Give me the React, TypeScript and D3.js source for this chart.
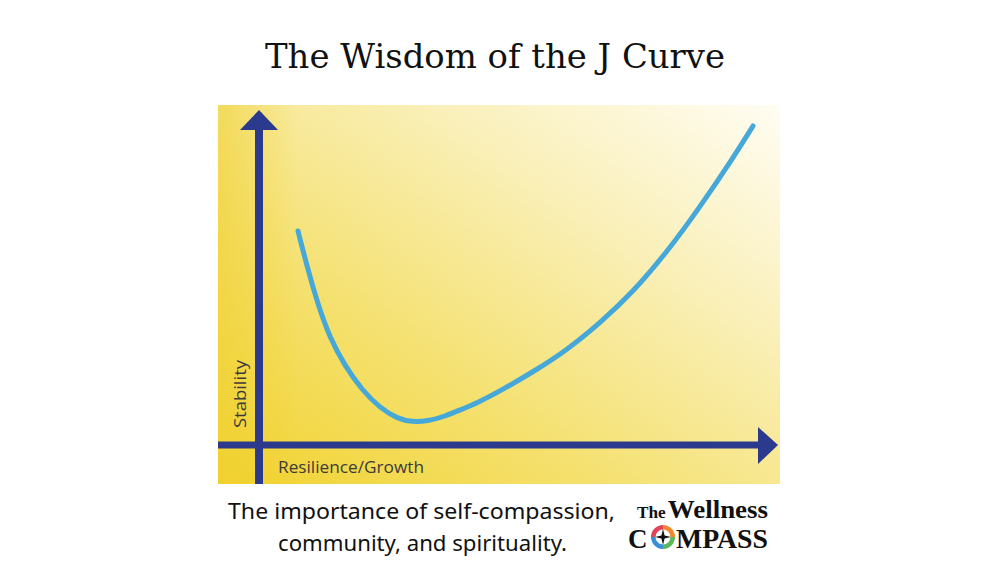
import React from "react";
import * as d3 from "d3";

const curveX = [0.763, 0.939, 1.155, 1.389, 1.683, 2.016, 2.368, 2.72, 2.994, 3.307, 3.601, 3.933, 4.266, 4.716, 5.362, 6.027, 6.673, 7.319, 7.984, 8.63, 9.276, 9.667];
const curveY = [6.485, 5.424, 4.242, 3.242, 2.394, 1.667, 1.121, 0.788, 0.697, 0.727, 0.848, 1.061, 1.273, 1.636, 2.212, 2.879, 3.697, 4.636, 5.848, 7.212, 8.697, 9.667];
const xAxisLabel = "Resilience/Growth";
const yAxisLabel = "Stability";
const titleText = "The Wisdom of the J Curve";
const captionLines = ["The importance of self-compassion,", "community, and spirituality."];

export default function App() {
  const W = 1000, H = 563;
  const bg = { x0: 218, x1: 780, y0: 105, y1: 484 };
  const x = d3.scaleLinear().domain([0, 10]).range([259, 770]);
  const y = d3.scaleLinear().domain([0, 10]).range([445, 115]);
  const pts = curveX.map((v, i) => [x(v), y(curveY[i])] as [number, number]);
  const line = d3.line().curve(d3.curveBasis)(pts) || "";
  const axisColor = "#2c3a8e";
  const ax = x(0), ay = y(0);

  const rc = { cx: 663, cy: 537, r: 12 };
  const arc = d3.arc();
  const ringColors = ["#f0892c", "#5cb85c", "#3a8fd6", "#e0455a"];
  return (
    <svg width={W} height={H} style={{ position: "absolute", left: 0, top: 0, background: "#fff" }}>
      <defs>
        <linearGradient id="bgGrad" x1="0" y1="1" x2="1" y2="0">
          <stop offset="0" stopColor="#f1d22e" />
          <stop offset="0.35" stopColor="#f5e171" />
          <stop offset="0.7" stopColor="#faf0bb" />
          <stop offset="1" stopColor="#fffdf3" />
        </linearGradient>
        <linearGradient id="leftGrad" x1="0" y1="0" x2="1" y2="0">
          <stop offset="0" stopColor="#f0d030" stopOpacity="0.55" />
          <stop offset="1" stopColor="#f0d030" stopOpacity="0" />
        </linearGradient>
      </defs>
      <rect x={0} y={0} width={W} height={H} fill="#fff" />
      <text x={495} y={68} textAnchor="middle" fontFamily="DejaVu Serif" fontSize={33} fill="#111"
        textLength={460} lengthAdjust="spacingAndGlyphs">{titleText}</text>

      <rect x={bg.x0} y={bg.y0} width={bg.x1 - bg.x0} height={bg.y1 - bg.y0} fill="url(#bgGrad)" />
      <rect x={bg.x0} y={bg.y0} width={80} height={bg.y1 - bg.y0} fill="url(#leftGrad)" />

      <rect x={ax - 4} y={128} width={8} height={bg.y1 - 128} fill={axisColor} />
      <path d={`M${ax - 19},${130} L${ax},${110} L${ax + 19},${130} Z`} fill={axisColor} />
      <rect x={bg.x0} y={ay - 3.5} width={760 - bg.x0} height={7} fill={axisColor} />
      <path d={`M${758},${427} L${778},${ay} L${758},${464} Z`} fill={axisColor} />

      <text transform={`translate(246,${428}) rotate(-90)`} fontFamily="Open Sans" fontSize={17} fill="#3b3b3b"
        textLength={68} lengthAdjust="spacingAndGlyphs">{yAxisLabel}</text>
      <text x={278} y={473} fontFamily="Open Sans" fontSize={17} fill="#3b3b3b"
        textLength={146} lengthAdjust="spacingAndGlyphs">{xAxisLabel}</text>

      <path d={line} fill="none" stroke="#45a8d8" strokeWidth={5} strokeLinecap="round" />

      <text x={228} y={519} fontFamily="Noto Sans" fontSize={21} fill="#111"
        textLength={387} lengthAdjust="spacingAndGlyphs">{captionLines[0]}</text>
      <text x={278} y={551} fontFamily="Noto Sans" fontSize={21} fill="#111"
        textLength={289} lengthAdjust="spacingAndGlyphs">{captionLines[1]}</text>

      <text x={637} y={518} fontFamily="Liberation Serif" fontWeight="bold" fill="#111"
        textLength={131} lengthAdjust="spacingAndGlyphs">
        <tspan fontSize={16}>The</tspan>
        <tspan fontSize={25} dx={2}>Wellness</tspan>
      </text>
      <text x={628} y={548} fontFamily="Liberation Serif" fontWeight="bold" fontSize={27} fill="#111">C</text>
      {ringColors.map((c, i) => (
        <path key={i} transform={`translate(${rc.cx},${rc.cy})`} fill={c}
          d={arc({ innerRadius: rc.r - 4.5, outerRadius: rc.r, startAngle: (i * Math.PI) / 2, endAngle: ((i + 1) * Math.PI) / 2 }) || ""} />
      ))}
      <path transform={`translate(${rc.cx},${rc.cy})`} fill="#111"
        d="M0,-8 L1.6,-1.6 L8,0 L1.6,1.6 L0,8 L-1.6,1.6 L-8,0 L-1.6,-1.6 Z" />
      <text x={676} y={548} fontFamily="Liberation Serif" fontWeight="bold" fontSize={27} fill="#111"
        textLength={92} lengthAdjust="spacingAndGlyphs">MPASS</text>
    </svg>
  );
}
